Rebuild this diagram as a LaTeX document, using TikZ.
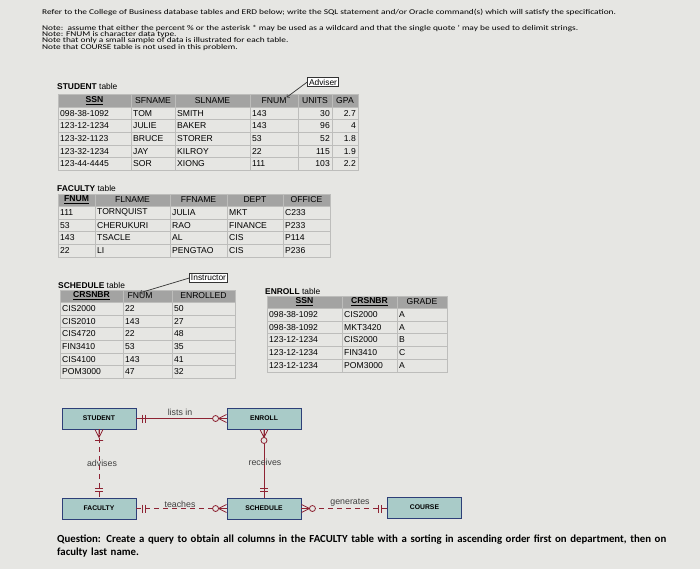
\documentclass[tikz,border=0pt]{standalone}
\usepackage{fontspec}
\setmainfont{Carlito}
\newfontfamily\arial{Liberation Sans}
\usepackage{xcolor}
\definecolor{bgc}{HTML}{E6E6E3}
\definecolor{hdr}{HTML}{A3A3A2}
\definecolor{grid}{HTML}{BDBDBB}
\definecolor{ent}{HTML}{A9CBC8}
\definecolor{entb}{HTML}{2E3F78}
\definecolor{rel}{HTML}{8E2333}
\newcommand{\wide}[1]{\scalebox{1.28}[1]{#1}}
\begin{document}
\begin{tikzpicture}[x=1pt,y=-1pt,
  note/.style={anchor=west,inner sep=0pt,font=\fontsize{7.3}{8}\selectfont},
  cell/.style={anchor=west,inner sep=0pt,font=\arial\fontsize{8.6}{10}\selectfont},
  rcell/.style={anchor=east,inner sep=0pt,font=\arial\fontsize{8.6}{10}\selectfont},
  hcell/.style={anchor=center,inner sep=0pt,font=\arial\fontsize{8.6}{10}\selectfont},
  tlabel/.style={anchor=west,inner sep=0pt,font=\arial\fontsize{8.4}{10}\selectfont},
  callout/.style={draw=black!80,fill=white,inner sep=1.5pt,font=\arial\fontsize{8.4}{10}\selectfont},
  entity/.style={draw=entb,fill=ent,line width=0.9pt,minimum width=74pt,minimum height=21pt,inner sep=0pt,font=\arial\bfseries\fontsize{6.8}{8}\selectfont},
  relline/.style={draw=rel,line width=0.9pt},
  reldash/.style={draw=rel,line width=0.9pt,dash pattern=on 5pt off 4pt},
  rlabel/.style={inner sep=0pt,text=black!75,font=\arial\fontsize{8.8}{10}\selectfont},
  crowzero/.pic={\draw[rel,line width=0.8pt] (0,-4)--(8,0)--(0,4) (0,0)--(8,0);
     \draw[rel,line width=0.8pt,fill=bgc] (11,0) circle (3);},
  crowbar/.pic={\draw[rel,line width=0.8pt] (0,-4)--(8,0)--(0,4) (0,0)--(8,0) (11,-4)--(11,4);},
  dbar/.pic={\draw[rel,line width=0.8pt] (6,-4)--(6,4) (9,-4)--(9,4);}
]
\fill[bgc] (0,0) rectangle (700,569);
\useasboundingbox (0,0) rectangle (700,569);
% ---- header text
\node[note] (t0) at (42,12) {\wide{Refer to the College of Business database tables and ERD below; write the SQL statement and/or Oracle command(s) which will satisfy the specification.}};
\node[note] (t1) at (42,28.3) {\wide{Note:\ \ assume that either the percent \% or the asterisk * may be used as a wildcard and that the single quote ' may be used to delimit strings.}};
\node[note] (t2) at (42,34.6) {\wide{Note: FNUM is character data type.}};
\node[note] (t3) at (42,41) {\wide{Note that only a small sample of data is illustrated for each table.}};
\node[note] (t4) at (42,47.8) {\wide{Note that COURSE table is not used in this problem.}};
% ---- STUDENT
\node[tlabel] (sl) at (57,87) {\textbf{STUDENT} table};
\fill[hdr] (58,94) rectangle (358,107);
\draw[grid] (58,94) rectangle (358,170);
\foreach \yy in {107,119.6,132.2,144.8,157.4} \draw[grid] (58,\yy)--(358,\yy);
\foreach \xx in {131,175,250,298,332} \draw[grid] (\xx,94)--(\xx,170);
\node[hcell] (sh1) at (94.5,100.5) {\textbf{\underline{SSN}}};
\node[hcell] (sh2) at (153,100.5) {SFNAME};
\node[hcell] (sh3) at (212.5,100.5) {SLNAME};
\node[hcell] (sh4) at (274,100.5) {FNUM};
\node[hcell] (sh5) at (315,100.5) {UNITS};
\node[hcell] (sh6) at (345,100.5) {GPA};
\foreach \i/\a/\b/\c/\d/\e/\f in {0/098-38-1092/TOM/SMITH/143/30/2.7,1/123-12-1234/JULIE/BAKER/143/96/4,2/123-32-1123/BRUCE/STORER/53/52/1.8,3/123-32-1234/JAY/KILROY/22/115/1.9,4/123-44-4445/SOR/XIONG/111/103/2.2}{
  \node[cell] (s\i a) at (60,113.3+12.6*\i) {\a};
  \node[cell] (s\i b) at (133,113.3+12.6*\i) {\b};
  \node[cell] (s\i c) at (177,113.3+12.6*\i) {\c};
  \node[cell] (s\i d) at (252,113.3+12.6*\i) {\d};
  \node[rcell] (s\i e) at (330,113.3+12.6*\i) {\e};
  \node[rcell] (s\i f) at (356,113.3+12.6*\i) {\f};
}
\node[callout] (adv) at (323,82) {Adviser};
\draw[->,black!80,line width=0.7pt] (adv.west) -- (sh4.north east);
% ---- FACULTY
\node[tlabel] (fl) at (57,188) {\textbf{FACULTY} table};
\fill[hdr] (58,194) rectangle (330,206);
\draw[grid] (58,194) rectangle (330,257);
\foreach \yy in {206,218.75,231.5,244.25} \draw[grid] (58,\yy)--(330,\yy);
\foreach \xx in {95,170,227,283} \draw[grid] (\xx,194)--(\xx,257);
\node[hcell] (fh1) at (76.5,200) {\textbf{\underline{FNUM}}};
\node[hcell] (fh2) at (132.5,200) {FLNAME};
\node[hcell] (fh3) at (198.5,200) {FFNAME};
\node[hcell] (fh4) at (255,200) {DEPT};
\node[hcell] (fh5) at (306.5,200) {OFFICE};
\foreach \i/\a/\b/\c/\d/\e in {0/111/TORNQUIST/JULIA/MKT/C233,1/53/CHERUKURI/RAO/FINANCE/P233,2/143/TSACLE/AL/CIS/P114,3/22/LI/PENGTAO/CIS/P236}{
  \node[cell] (f\i a) at (60,212.4+12.75*\i) {\a};
  \node[cell] (f\i b) at (97,212.4+12.75*\i) {\b};
  \node[cell] (f\i c) at (172,212.4+12.75*\i) {\c};
  \node[cell] (f\i d) at (229,212.4+12.75*\i) {\d};
  \node[cell] (f\i e) at (285,212.4+12.75*\i) {\e};
}
% ---- SCHEDULE
\node[tlabel] (scl) at (58,285) {\textbf{SCHEDULE} table};
\fill[hdr] (60,290) rectangle (235,302);
\draw[grid] (60,290) rectangle (235,378);
\foreach \yy in {302,314.7,327.3,340,352.7,365.3} \draw[grid] (60,\yy)--(235,\yy);
\foreach \xx in {123,172} \draw[grid] (\xx,290)--(\xx,378);
\node[hcell] (ch1) at (91.5,296) {\textbf{\underline{CRSNBR}}};
\node[hcell] (ch2) at (140,296) {FNUM};
\node[hcell] (ch3) at (203.5,296) {ENROLLED};
\foreach \i/\a/\b/\c in {0/CIS2000/22/50,1/CIS2010/143/27,2/CIS4720/22/48,3/FIN3410/53/35,4/CIS4100/143/41,5/POM3000/47/32}{
  \node[cell] (c\i a) at (62,308.4+12.67*\i) {\a};
  \node[cell] (c\i b) at (125,308.4+12.67*\i) {\b};
  \node[cell] (c\i c) at (174,308.4+12.67*\i) {\c};
}
\node[callout] (ins) at (208.5,278) {Instructor};
\draw[->,black!80,line width=0.7pt] (ins.west) -- (ch2.north);
% ---- ENROLL
\node[tlabel] (el) at (265,291) {\textbf{ENROLL} table};
\fill[hdr] (267,296) rectangle (447,308);
\draw[grid] (267,296) rectangle (447,372);
\foreach \yy in {308,320.8,333.6,346.4,359.2} \draw[grid] (267,\yy)--(447,\yy);
\foreach \xx in {342,397} \draw[grid] (\xx,296)--(\xx,372);
\node[hcell] (eh1) at (304.5,302) {\textbf{\underline{SSN}}};
\node[hcell] (eh2) at (369.5,302) {\textbf{\underline{CRSNBR}}};
\node[hcell] (eh3) at (422,302) {GRADE};
\foreach \i/\a/\b/\c in {0/098-38-1092/CIS2000/A,1/098-38-1092/MKT3420/A,2/123-12-1234/CIS2000/B,3/123-12-1234/FIN3410/C,4/123-12-1234/POM3000/A}{
  \node[cell] (e\i a) at (269,314.4+12.8*\i) {\a};
  \node[cell] (e\i b) at (344,314.4+12.8*\i) {\b};
  \node[cell] (e\i c) at (399,314.4+12.8*\i) {\c};
}
% ---- ERD
\node[entity] (STU) at (99,418.5) {STUDENT};
\node[entity] (ENR) at (264,418.5) {ENROLL};
\node[entity] (FAC) at (99,508.5) {FACULTY};
\node[entity] (SCH) at (264,508.5) {SCHEDULE};
\node[entity] (COU) at (424.5,507.5) {COURSE};
\draw[relline] (STU.east) -- (ENR.west);
\draw[reldash] (STU.south) -- (FAC.north);
\draw[relline] (ENR.south) -- (SCH.north);
\draw[reldash] (FAC.east) -- (SCH.west);
\draw[reldash] (SCH.east) -- (SCH.east -| COU.west);
\pic at (STU.east) {dbar};
\pic[rotate=180] at (ENR.west) {crowzero};
\pic[rotate=270] at (STU.south) {crowbar};
\pic[rotate=90] at (FAC.north) {dbar};
\pic[rotate=270] at (ENR.south) {crowzero};
\pic[rotate=90] at (SCH.north) {dbar};
\pic at (FAC.east) {dbar};
\pic[rotate=180] at (SCH.west) {crowzero};
\pic at (SCH.east) {crowzero};
\pic[rotate=180] at (SCH.east -| COU.west) {dbar};
\node[rlabel] (r1) at (180,412) {lists in};
\node[rlabel] (r2) at (102,463) {advises};
\node[rlabel] (r3) at (265,462) {receives};
\node[rlabel] (r4) at (180,504) {teaches};
\node[rlabel] (r5) at (350,503) {generates};
% ---- question
\node[anchor=north west,inner sep=0pt,font=\bfseries\fontsize{10.8}{13}\selectfont,align=left,text width=610pt] (q) at (57,535) {Question: Create a query to obtain all columns in the FACULTY table with a sorting in ascending order first on department, then on faculty last name.};
\end{tikzpicture}
\end{document}
